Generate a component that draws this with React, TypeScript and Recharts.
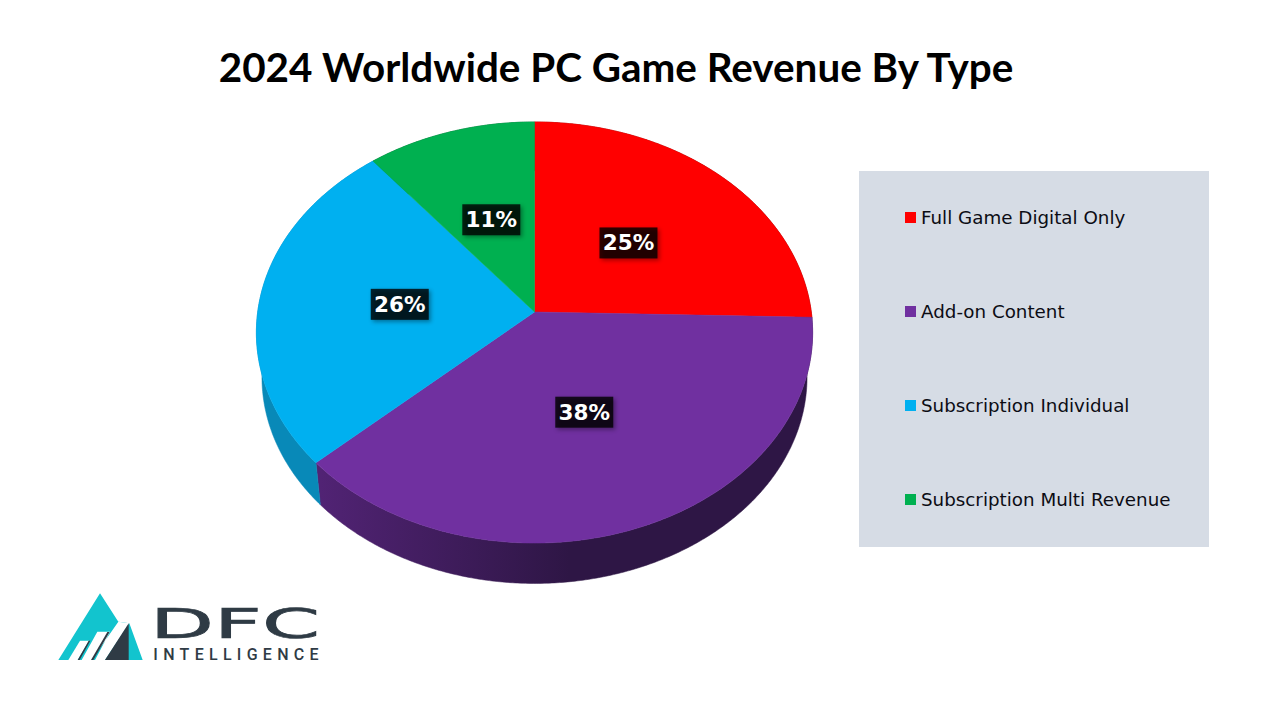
import React from 'react';
import { PieChart, Pie, Legend } from 'recharts';

const categories = ['Full Game Digital Only', 'Add-on Content', 'Subscription Individual', 'Subscription Multi Revenue'];
const shares = [25.4, 37.8, 26, 10.8];
const topColors = ['#FF0000', '#7030A0', '#00B0F0', '#00B050'];
const sideColors = ['#7F0000', 'url(#purpleSide)', '#0889B8', '#005828'];

const topData = categories.map((name, i) => ({ name, value: shares[i], fill: topColors[i] }));
const sideData = categories.map((name, i) => ({ name, value: shares[i], fill: sideColors[i] }));

// the pie is a tilted disc seen in perspective, so angles get projected by hand
const TILT = 0.7535;
const PERSP = 0.0974;
const DEPTH = 45;
const BOTTOM_SCALE = 0.98;
const FONT = '"DejaVu Sans", sans-serif';

const project = (cx: number, cy: number, radius: number, angle: number, r = 1) => {
  const t = ((90 - angle) * Math.PI) / 180;
  const u = r * Math.sin(t);
  const w = -r * Math.cos(t);
  const d = 1 - PERSP * w;
  return { x: cx + (radius * u) / d, y: cy + (radius * TILT * w) / d };
};

const arcPoints = (cx: number, cy: number, radius: number, from: number, to: number) => {
  const steps = Math.max(2, Math.ceil(Math.abs(to - from) * 2));
  const pts = [];
  for (let i = 0; i <= steps; i++) pts.push(project(cx, cy, radius, from + ((to - from) * i) / steps));
  return pts;
};

const toPath = (pts: { x: number; y: number }[]) =>
  pts.map((p, i) => `${i ? 'L' : 'M'}${p.x.toFixed(2)} ${p.y.toFixed(2)}`).join(' ') + ' Z';

const TopSector = ({ cx, cy, outerRadius, startAngle, endAngle, fill }: any) => {
  const pts = [{ x: cx, y: cy }, ...arcPoints(cx, cy, outerRadius, startAngle, endAngle)];
  return <path d={toPath(pts)} fill={fill} stroke={fill} strokeWidth={0.5} />;
};

const SideSector = ({ cx, cy, outerRadius, startAngle, endAngle, fill }: any) => {
  const upper = arcPoints(cx, cy, outerRadius, startAngle, endAngle);
  const lower = arcPoints(cx, cy + DEPTH, outerRadius * BOTTOM_SCALE, endAngle, startAngle);
  return <path d={toPath([...upper, ...lower])} fill={fill} stroke={fill} strokeWidth={0.5} />;
};

const PercentLabel = ({ cx, cy, outerRadius, midAngle, percent }: any) => {
  const p = project(cx, cy, outerRadius, midAngle, 0.49);
  return (
    <g>
      <rect
        x={p.x - 29}
        y={p.y - 15.5}
        width={58}
        height={31}
        fill="#000"
        fillOpacity={0.8}
        style={{ filter: 'drop-shadow(2px 2px 2px rgba(0,0,0,0.45))' }}
      />
      <text
        x={p.x}
        y={p.y + 7.5}
        textAnchor="middle"
        fill="#fff"
        fontFamily={FONT}
        fontWeight="bold"
        fontSize={21.5}
      >
        {`${Math.round(percent * 100)}%`}
      </text>
    </g>
  );
};

const LegendList = ({ payload }: any) => {
  // the side pie reports its slices too, only the top face belongs in the list
  const items = (payload || [])
    .filter((item: any) => topColors.includes(item.color))
    .sort((a: any, b: any) => categories.indexOf(a.value) - categories.indexOf(b.value));
  return (
    <div style={{ position: 'relative', width: 350, height: 376, background: '#D6DCE5' }}>
      {items.map((item: any, i: number) => (
        <div
          key={item.value}
          style={{
            position: 'absolute',
            left: 46,
            top: 31 + i * 94,
            height: 30,
            display: 'flex',
            alignItems: 'center',
            whiteSpace: 'nowrap',
            fontFamily: FONT,
            fontSize: 18.3,
            color: '#0c0c14',
          }}
        >
          <span style={{ width: 11, height: 11, background: item.color, marginRight: 5 }} />
          {item.value}
        </div>
      ))}
    </div>
  );
};

const Logo = () => (
  <svg
    width={300}
    height={100}
    viewBox="0 0 900 300"
    style={{ position: 'absolute', left: 40, top: 580 }}
  >
    <polygon points="180,40 55,240 308,240 268,130 235,125" fill="#12C4CE" />
    <polygon points="235,125 268,130 195,240 165,240 210,155 172,155 125,240 155,240" fill="#fff" />
    <polygon points="120,182 147,182 113,240 85,240" fill="#fff" />
    <polygon points="146,182 151,182 119,240 113,240" fill="#2F3B45" />
    <polygon points="202,156 209,156 160,240 153,240" fill="#2F3B45" />
    <polygon points="266,130 266,240 195,240" fill="#2F3B45" />
    <text
      x={330}
      y={175}
      fontFamily={FONT}
      fontSize={124}
      textLength={510}
      lengthAdjust="spacingAndGlyphs"
      fill="#2F3B45"
      stroke="#2F3B45"
      strokeWidth={2}
    >
      DFC
    </text>
    <text
      x={340}
      y={240}
      fontFamily="Roboto, sans-serif"
      fontWeight={500}
      fontSize={48}
      textLength={496}
      fill="#2F3B45"
    >
      INTELLIGENCE
    </text>
  </svg>
);

export default function App() {
  return (
    <div style={{ position: 'absolute', left: 0, top: 0, width: 1280, height: 720, background: '#fff', overflow: 'hidden' }}>
      <div
        style={{
          position: 'absolute',
          left: 218,
          top: 43,
          width: 796,
          textAlign: 'center',
          whiteSpace: 'nowrap',
          fontFamily: 'Lato, sans-serif',
          fontWeight: 700,
          fontSize: 40.4,
          lineHeight: '48px',
          color: '#000',
        }}
      >
        2024 Worldwide PC Game Revenue By Type
      </div>
      <PieChart width={1280} height={720} margin={{ top: 0, right: 0, bottom: 0, left: 0 }}>
        <defs>
          <linearGradient id="purpleSide" gradientUnits="userSpaceOnUse" x1="320" y1="0" x2="570" y2="0">
            <stop offset="0%" stopColor="#512374" />
            <stop offset="100%" stopColor="#2E1645" />
          </linearGradient>
        </defs>
        <Pie
          data={sideData}
          dataKey="value"
          nameKey="name"
          cx={534.5}
          cy={312}
          outerRadius={276.8}
          startAngle={90}
          endAngle={-270}
          legendType="none"
          shape={SideSector}
          isAnimationActive={false}
        />
        <Pie
          data={topData}
          dataKey="value"
          nameKey="name"
          cx={534.5}
          cy={312}
          outerRadius={276.8}
          startAngle={90}
          endAngle={-270}
          shape={TopSector}
          label={PercentLabel}
          labelLine={false}
          isAnimationActive={false}
        />
        <Legend
          layout="vertical"
          align="right"
          verticalAlign="middle"
          content={LegendList}
          wrapperStyle={{ position: 'absolute', left: 859, top: 171, width: 350, height: 376 }}
        />
      </PieChart>
      <Logo />
    </div>
  );
}
